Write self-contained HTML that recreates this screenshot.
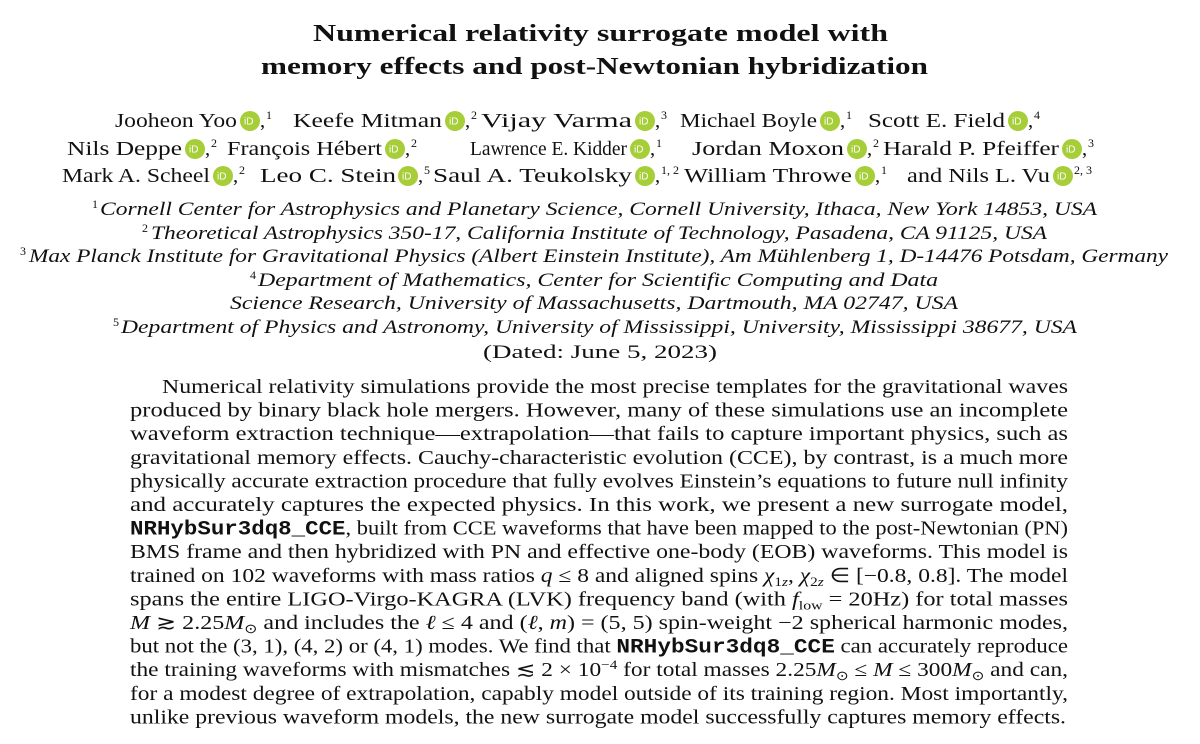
<!DOCTYPE html>
<html><head><meta charset="utf-8">
<style>
html,body{margin:0;padding:0;background:#fff;}
body{width:1200px;height:744px;overflow:hidden;}
svg{display:block;font-family:"Liberation Serif",serif;fill:#111;}
.t{font-weight:bold;font-size:24px;}
.a{font-size:20.5px;}
.f{font-style:italic;font-size:18.5px;}
.s{font-size:12px;}
.j{font-size:20px;}
.m{font-family:"Liberation Mono",monospace;font-weight:bold;}
.id{fill:#a6ce39;}
.idt{fill:#fff;font-family:"Liberation Sans",sans-serif;font-size:10px;}
</style></head><body>
<svg width="1200" height="744" viewBox="0 0 1200 744">
<g>
<text class="t" x="313" y="41" textLength="575" lengthAdjust="spacingAndGlyphs">Numerical relativity surrogate model with</text>
<text class="t" x="261" y="74" textLength="667" lengthAdjust="spacingAndGlyphs">memory effects and post-Newtonian hybridization</text>
</g>
<g id="authors"></g>
<g>
<text class="s" x="92" y="208">1</text><text class="f" x="100" y="215" textLength="997" lengthAdjust="spacingAndGlyphs">Cornell Center for Astrophysics and Planetary Science, Cornell University, Ithaca, New York 14853, USA</text>
<text class="s" x="142" y="232">2</text><text class="f" x="151" y="239" textLength="896" lengthAdjust="spacingAndGlyphs">Theoretical Astrophysics 350-17, California Institute of Technology, Pasadena, CA 91125, USA</text>
<text class="s" x="20" y="255">3</text><text class="f" x="29" y="262" textLength="1139" lengthAdjust="spacingAndGlyphs">Max Planck Institute for Gravitational Physics (Albert Einstein Institute), Am Mühlenberg 1, D-14476 Potsdam, Germany</text>
<text class="s" x="250" y="279">4</text><text class="f" x="258" y="286" textLength="680" lengthAdjust="spacingAndGlyphs">Department of Mathematics, Center for Scientific Computing and Data</text>
<text class="f" x="230" y="309" textLength="728" lengthAdjust="spacingAndGlyphs">Science Research, University of Massachusetts, Dartmouth, MA 02747, USA</text>
<text class="s" x="113" y="326">5</text><text class="f" x="121" y="333" textLength="956" lengthAdjust="spacingAndGlyphs">Department of Physics and Astronomy, University of Mississippi, University, Mississippi 38677, USA</text>
<text class="f" style="font-style:normal" x="483" y="358" textLength="234" lengthAdjust="spacingAndGlyphs">(Dated: June 5, 2023)</text>
</g>
<g>
<text class="j" x="162" y="393" textLength="906" lengthAdjust="spacingAndGlyphs">Numerical relativity simulations provide the most precise templates for the gravitational waves</text>
<text class="j" x="130" y="416.6" textLength="938" lengthAdjust="spacingAndGlyphs">produced by binary black hole mergers. However, many of these simulations use an incomplete</text>
<text class="j" x="130" y="440.2" textLength="938" lengthAdjust="spacingAndGlyphs">waveform extraction technique—extrapolation—that fails to capture important physics, such as</text>
<text class="j" x="130" y="463.8" textLength="938" lengthAdjust="spacingAndGlyphs">gravitational memory effects. Cauchy-characteristic evolution (CCE), by contrast, is a much more</text>
<text class="j" x="130" y="487.4" textLength="938" lengthAdjust="spacingAndGlyphs">physically accurate extraction procedure that fully evolves Einstein’s equations to future null infinity</text>
<text class="j" x="130" y="511" textLength="938" lengthAdjust="spacingAndGlyphs">and accurately captures the expected physics. In this work, we present a new surrogate model,</text>
<text class="j" x="130" y="534.6" textLength="938" lengthAdjust="spacingAndGlyphs"><tspan class="m">NRHybSur3dq8_CCE</tspan>, built from CCE waveforms that have been mapped to the post-Newtonian (PN)</text>
<text class="j" x="130" y="558.2" textLength="938" lengthAdjust="spacingAndGlyphs">BMS frame and then hybridized with PN and effective one-body (EOB) waveforms. This model is</text>
<text class="j" x="130" y="581.8" textLength="938" lengthAdjust="spacingAndGlyphs">trained on 102 waveforms with mass ratios <tspan font-style="italic">q</tspan> ≤ 8 and aligned spins <tspan font-style="italic">χ</tspan><tspan dy="4" font-size="13">1<tspan font-style="italic">z</tspan></tspan><tspan dy="-4">, </tspan><tspan font-style="italic">χ</tspan><tspan dy="4" font-size="13">2<tspan font-style="italic">z</tspan></tspan><tspan dy="-4"> ∈ [−0.8, 0.8]. The model</tspan></text>
<text class="j" x="130" y="605.4" textLength="938" lengthAdjust="spacingAndGlyphs">spans the entire LIGO-Virgo-KAGRA (LVK) frequency band (with <tspan font-style="italic">f</tspan><tspan dy="4" font-size="13">low</tspan><tspan dy="-4"> = 20Hz) for total masses</tspan></text>
<text class="j" x="130" y="629" textLength="938" lengthAdjust="spacingAndGlyphs"><tspan font-style="italic">M</tspan> ≳ 2.25<tspan font-style="italic">M</tspan><tspan dy="4" font-size="13">⊙</tspan><tspan dy="-4"> and includes the </tspan><tspan font-style="italic">ℓ</tspan> ≤ 4 and (<tspan font-style="italic">ℓ</tspan>, <tspan font-style="italic">m</tspan>) = (5, 5) spin-weight −2 spherical harmonic modes,</text>
<text class="j" x="130" y="652.6" textLength="938" lengthAdjust="spacingAndGlyphs">but not the (3, 1), (4, 2) or (4, 1) modes. We find that <tspan class="m">NRHybSur3dq8_CCE</tspan> can accurately reproduce</text>
<text class="j" x="130" y="676.2" textLength="938" lengthAdjust="spacingAndGlyphs">the training waveforms with mismatches ≲ 2 × 10<tspan dy="-7" font-size="13">−4</tspan><tspan dy="7"> for total masses 2.25</tspan><tspan font-style="italic">M</tspan><tspan dy="4" font-size="13">⊙</tspan><tspan dy="-4"> ≤ </tspan><tspan font-style="italic">M</tspan> ≤ 300<tspan font-style="italic">M</tspan><tspan dy="4" font-size="13">⊙</tspan><tspan dy="-4"> and can,</tspan></text>
<text class="j" x="130" y="699.8" textLength="938" lengthAdjust="spacingAndGlyphs">for a modest degree of extrapolation, capably model outside of its training region. Most importantly,</text>
<text class="j" x="130" y="723.4" textLength="936" lengthAdjust="spacingAndGlyphs">unlike previous waveform models, the new surrogate model successfully captures memory effects.</text>
</g>
</svg>
<script>
const NS='http://www.w3.org/2000/svg';
const g=document.getElementById('authors');
// [name, x0, x1, iconCx, superscript, noComma]
const lines=[
 {y:127,items:[["Jooheon Yoo",115,237,250,"1"],["Keefe Mitman",293,442,455,"2"],["Vijay Varma",481,632,645,"3"],["Michael Boyle",680,817,830,"1"],["Scott E. Field",868,1005,1018,"4"]]},
 {y:155,items:[["Nils Deppe",67,182,195,"2"],["François Hébert",227,382,395,"2"],["Lawrence E. Kidder",470,627,640,"1"],["Jordan Moxon",692,844,857,"2"],["Harald P. Pfeiffer",883,1059,1072,"3"]]},
 {y:182,items:[["Mark A. Scheel",62,210,223,"2"],["Leo C. Stein",260,396,408,"5"],["Saul A. Teukolsky",433,632,645,"1, 2"],["William Throwe",684,852,865,"1"],["and Nils L. Vu",907,1050,1063,"2, 3",true]]}
];
lines.forEach(L=>{L.items.forEach(it=>{
 const t=document.createElementNS(NS,'text');
 
 
 t.setAttribute('class','a');t.setAttribute('x',it[1]);t.setAttribute('y',L.y);
 t.setAttribute('textLength',it[2]-it[1]);t.setAttribute('lengthAdjust','spacingAndGlyphs');
 t.textContent=it[0];g.appendChild(t);
 const c=document.createElementNS(NS,'circle');
 
 
 c.setAttribute('class','id');c.setAttribute('cx',it[3]);c.setAttribute('cy',L.y-6);c.setAttribute('r',10);g.appendChild(c);
 const it2=document.createElementNS(NS,'text');
 
 
 it2.setAttribute('class','idt');it2.setAttribute('x',it[3]-6);it2.setAttribute('y',L.y-2.5);it2.textContent='iD';g.appendChild(it2);
 let x=it[3]+10;
 if(!it[5]){const cm=document.createElementNS(NS,'text');
  
  
  cm.setAttribute('class','a');cm.setAttribute('x',x);cm.setAttribute('y',L.y);cm.textContent=',';g.appendChild(cm);x+=5;}
 const s=document.createElementNS(NS,'text');
 
 
 s.setAttribute('class','s');s.setAttribute('x',x+1);s.setAttribute('y',L.y-8);s.textContent=it[4];g.appendChild(s);
});});
</script>
</body></html>
